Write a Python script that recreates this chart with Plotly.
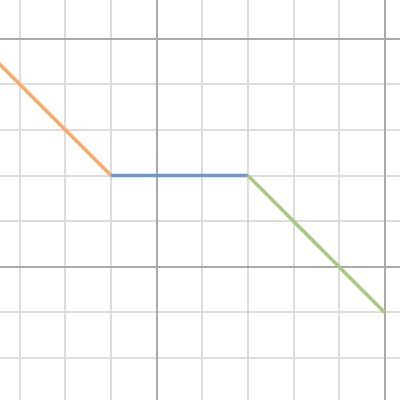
import plotly.graph_objects as go

# Piecewise segments
seg_orange_x = [-4, -1]
seg_orange_y = [5, 2]
seg_blue_x = [-1, 2]
seg_blue_y = [2, 2]
seg_green_x = [2, 5]
seg_green_y = [2, -1]

fig = go.Figure()
fig.add_trace(go.Scatter(x=seg_orange_x, y=seg_orange_y, mode="lines",
                         line=dict(color="#f9aa66", width=3.5), showlegend=False))
fig.add_trace(go.Scatter(x=seg_blue_x, y=seg_blue_y, mode="lines",
                         line=dict(color="#7094cb", width=3.5), showlegend=False))
fig.add_trace(go.Scatter(x=seg_green_x, y=seg_green_y, mode="lines",
                         line=dict(color="#a9ca7e", width=3.5), showlegend=False))

axis_common = dict(
    showticklabels=False, ticks="", zeroline=False, showline=False,
    tick0=0, dtick=5, showgrid=True, gridcolor="#aaaaaa", gridwidth=2,
    minor=dict(tick0=0, dtick=1, showgrid=True, gridcolor="#dddddd", gridwidth=2),
)
fig.update_layout(
    width=400, height=400,
    margin=dict(l=0, r=0, t=0, b=0),
    paper_bgcolor="white", plot_bgcolor="white",
    xaxis=dict(range=[-3.435, 5.335], **axis_common),
    yaxis=dict(range=[-2.92, 5.85], **axis_common),
)
fig.write_html(
    "out.html",
    config={"displayModeBar": False},
    post_script="document.body.style.margin='0';document.body.style.overflow='hidden';",
)
